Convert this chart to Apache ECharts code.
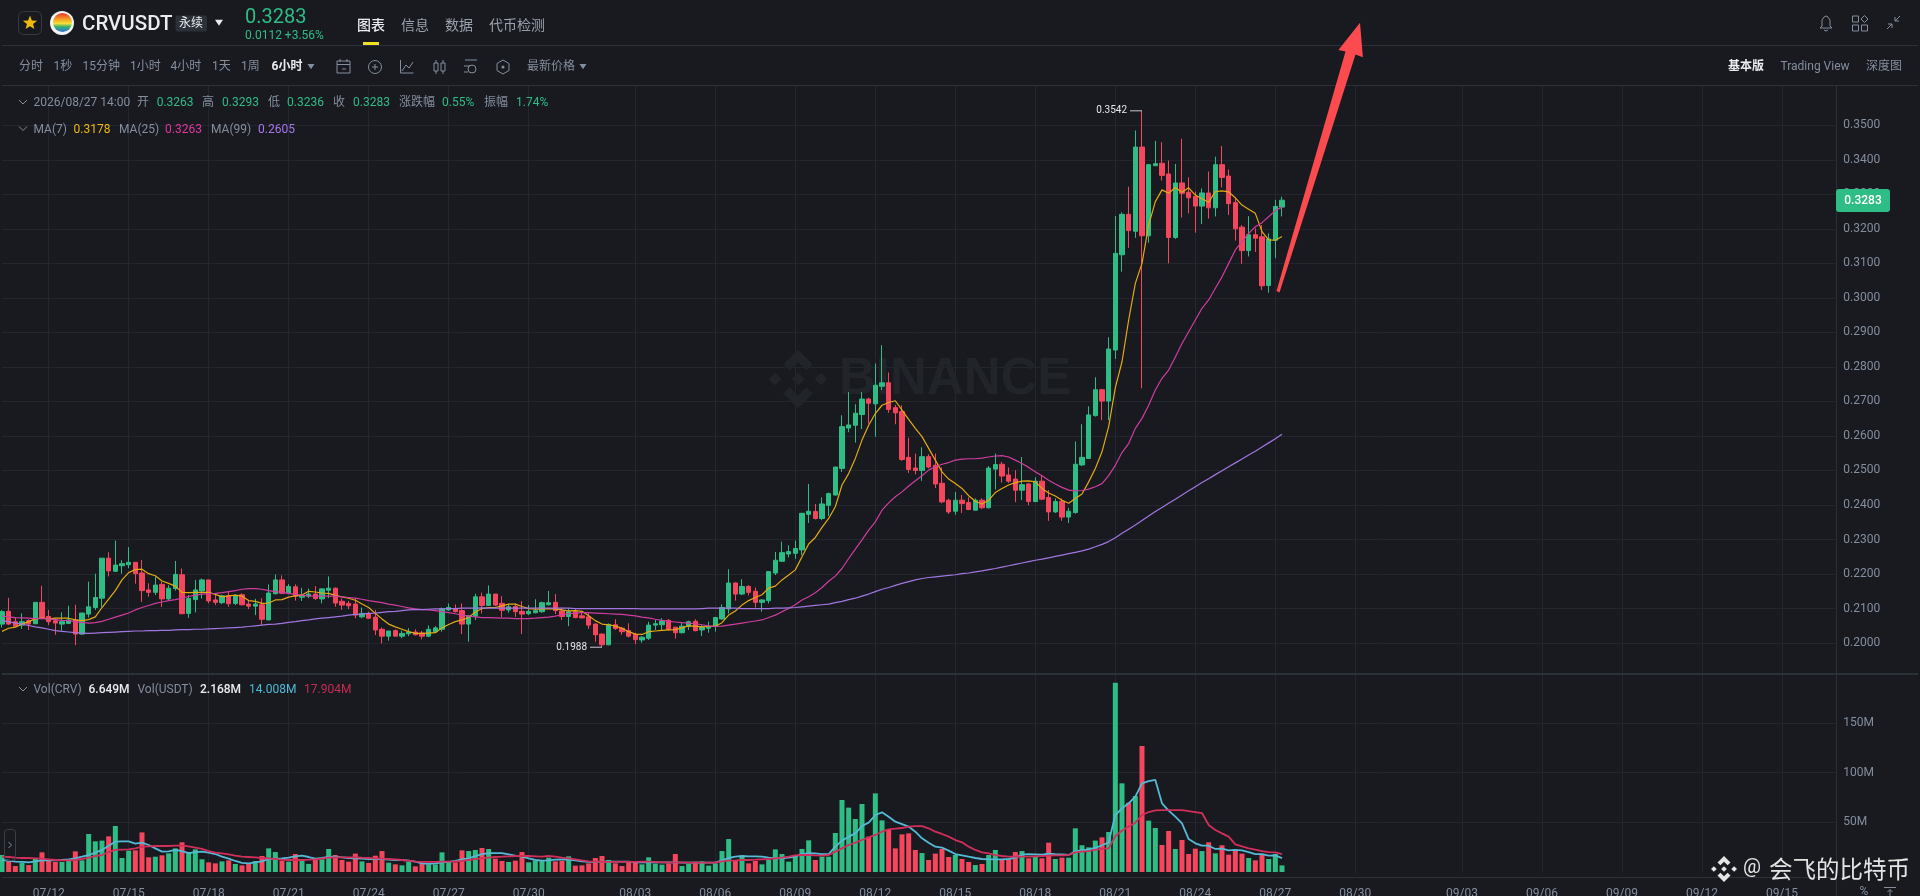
<!DOCTYPE html>
<html><head><meta charset="utf-8"><title>CRVUSDT</title>
<style>html,body{margin:0;padding:0;background:#181A20;overflow:hidden}#c{width:1920px;height:896px}</style>
<script src="https://cdn.jsdelivr.net/npm/echarts@6/dist/echarts.min.js"></script>
</head><body><div id="c"></div><script>
const slotCount = 276;
const tickIndex = [7,19,31,43,55,67,79,95,107,119,131,143,155,167,179,191,203,219,231,243,255,267];
const tickLabels = ['07/12','07/15','07/18','07/21','07/24','07/27','07/30','08/03','08/06','08/09','08/12','08/15','08/18','08/21','08/24','08/27','08/30','09/03','09/06','09/09','09/12','09/15'];
const priceTicks = [0.20,0.21,0.22,0.23,0.24,0.25,0.26,0.27,0.28,0.29,0.30,0.31,0.32,0.33,0.34,0.35];
const volTicks = [50,100,150];
// open, close, low, high
const candles = [
[.2055,.2091,.2045,.2096],[.2092,.2055,.2052,.2131],[.2062,.2049,.2049,.2074],[.2052,.2062,.2041,.2086],[.2065,.2055,.2038,.2069],[.2056,.2118,.2055,.2118],[.2118,.2072,.2069,.2166],[.2077,.2062,.2052,.2096],[.2065,.2058,.2024,.2072],[.2055,.2062,.2036,.2089],
[.2057,.2067,.2055,.2108],[.2067,.2026,.1994,.2111],[.2026,.2087,.2024,.2087],[.2084,.2105,.2074,.2178],[.2103,.2132,.2096,.2201],[.2130,.2246,.2105,.2246],[.2246,.2209,.2193,.2263],[.2208,.2226,.2206,.2297],[.2224,.2230,.2201,.2240],[.2227,.2234,.2217,.2278],
[.2234,.2201,.2172,.2234],[.2203,.2152,.2119,.2241],[.2154,.2147,.2134,.2173],[.2147,.2168,.2139,.2192],[.2170,.2128,.2105,.2178],[.2128,.2159,.2125,.2168],[.2158,.2199,.2152,.2238],[.2198,.2085,.2084,.2216],[.2086,.2129,.2073,.2139],[.2126,.2154,.2089,.2183],
[.2151,.2183,.2129,.2187],[.2183,.2122,.2115,.2183],[.2125,.2118,.2110,.2139],[.2117,.2137,.2113,.2140],[.2137,.2114,.2105,.2151],[.2115,.2137,.2110,.2141],[.2140,.2111,.2109,.2144],[.2113,.2107,.2098,.2125],[.2107,.2113,.2081,.2128],[.2111,.2069,.2052,.2130],
[.2067,.2145,.2067,.2170],[.2143,.2183,.2141,.2199],[.2183,.2144,.2142,.2196],[.2145,.2164,.2141,.2171],[.2163,.2136,.2123,.2170],[.2133,.2136,.2122,.2160],[.2136,.2142,.2130,.2158],[.2142,.2129,.2125,.2165],[.2128,.2157,.2115,.2159],[.2153,.2159,.2130,.2193],
[.2159,.2116,.2105,.2161],[.2121,.2110,.2096,.2129],[.2115,.2108,.2098,.2122],[.2113,.2081,.2072,.2129],[.2076,.2086,.2072,.2103],[.2086,.2072,.2070,.2091],[.2075,.2038,.2023,.2096],[.2040,.2020,.1999,.2045],[.2020,.2035,.2007,.2035],[.2036,.2020,.2020,.2040],
[.2020,.2028,.2014,.2036],[.2027,.2032,.2020,.2043],[.2032,.2024,.2022,.2040],[.2029,.2020,.2011,.2035],[.2020,.2040,.2017,.2051],[.2033,.2044,.2030,.2049],[.2040,.2099,.2033,.2103],[.2096,.2103,.2094,.2115],[.2100,.2091,.2089,.2112],[.2094,.2055,.2026,.2115],
[.2055,.2079,.2004,.2081],[.2078,.2134,.2067,.2143],[.2134,.2109,.2086,.2146],[.2109,.2142,.2107,.2167],[.2142,.2110,.2107,.2142],[.2115,.2095,.2074,.2136],[.2096,.2105,.2088,.2113],[.2106,.2091,.2076,.2115],[.2092,.2084,.2026,.2121],[.2085,.2092,.2081,.2110],
[.2088,.2094,.2086,.2127],[.2091,.2117,.2088,.2120],[.2111,.2117,.2109,.2151],[.2118,.2094,.2084,.2142],[.2093,.2077,.2067,.2103],[.2077,.2091,.2049,.2101],[.2091,.2074,.2072,.2098],[.2079,.2073,.2072,.2091],[.2076,.2052,.2041,.2088],[.2055,.2024,.2004,.2057],
[.2026,.1995,.1988,.2028],[.1995,.2054,.1994,.2057],[.2053,.2042,.2038,.2069],[.2043,.2033,.2024,.2047],[.2036,.2020,.2016,.2057],[.2025,.2010,.1997,.2030],[.2009,.2017,.2001,.2020],[.2014,.2052,.2009,.2062],[.2052,.2056,.2038,.2067],[.2053,.2064,.2036,.2072],
[.2066,.2039,.2036,.2069],[.2046,.2030,.2013,.2047],[.2030,.2049,.2028,.2059],[.2049,.2062,.2038,.2065],[.2063,.2036,.2034,.2069],[.2038,.2047,.2020,.2052],[.2043,.2049,.2030,.2062],[.2049,.2074,.2033,.2076],[.2070,.2103,.2067,.2112],[.2099,.2174,.2086,.2214],
[.2174,.2142,.2123,.2176],[.2142,.2164,.2139,.2185],[.2164,.2147,.2138,.2168],[.2150,.2118,.2103,.2161],[.2118,.2125,.2091,.2127],[.2123,.2207,.2115,.2207],[.2203,.2240,.2197,.2264],[.2237,.2262,.2236,.2294],[.2258,.2265,.2248,.2283],[.2260,.2274,.2244,.2297],
[.2270,.2376,.2255,.2376],[.2373,.2382,.2348,.2461],[.2381,.2361,.2358,.2403],[.2361,.2403,.2356,.2422],[.2399,.2433,.2368,.2436],[.2429,.2510,.2427,.2510],[.2506,.2627,.2496,.2660],[.2623,.2632,.2611,.2727],[.2631,.2666,.2581,.2692],[.2662,.2707,.2620,.2727],
[.2707,.2695,.2636,.2711],[.2693,.2747,.2598,.2810],[.2744,.2754,.2733,.2863],[.2754,.2677,.2667,.2784],[.2682,.2667,.2634,.2690],[.2671,.2532,.2528,.2689],[.2538,.2503,.2493,.2595],[.2507,.2500,.2489,.2549],[.2500,.2540,.2470,.2567],[.2540,.2510,.2506,.2547],
[.2515,.2461,.2449,.2549],[.2463,.2409,.2405,.2509],[.2414,.2380,.2374,.2418],[.2382,.2414,.2372,.2438],[.2414,.2404,.2377,.2429],[.2407,.2387,.2385,.2422],[.2385,.2414,.2385,.2419],[.2414,.2392,.2388,.2419],[.2392,.2507,.2390,.2513],[.2504,.2517,.2445,.2549],
[.2518,.2484,.2465,.2525],[.2487,.2469,.2464,.2509],[.2475,.2443,.2408,.2501],[.2443,.2459,.2414,.2539],[.2461,.2410,.2399,.2464],[.2410,.2469,.2408,.2480],[.2469,.2417,.2414,.2487],[.2422,.2380,.2354,.2443],[.2380,.2410,.2377,.2419],[.2411,.2365,.2354,.2419],
[.2365,.2382,.2348,.2392],[.2378,.2518,.2375,.2584],[.2516,.2538,.2513,.2634],[.2535,.2661,.2533,.2686],[.2659,.2734,.2656,.2770],[.2734,.2701,.2646,.2737],[.2701,.2852,.2646,.2886],[.2849,.3129,.2823,.3237],[.3125,.3242,.3076,.3248],[.3242,.3195,.3145,.3322],
[.3193,.3437,.3174,.3485],[.3437,.3180,.2738,.3542],[.3180,.3386,.3160,.3388],[.3383,.3389,.3383,.3455],[.3390,.3355,.3340,.3451],[.3359,.3175,.3100,.3398],[.3175,.3333,.3171,.3388],[.3333,.3303,.3233,.3461],[.3306,.3290,.3245,.3349],[.3294,.3266,.3189,.3308],
[.3266,.3304,.3214,.3317],[.3304,.3261,.3230,.3366],[.3261,.3386,.3236,.3409],[.3386,.3349,.3320,.3440],[.3353,.3273,.3240,.3372],[.3276,.3200,.3166,.3291],[.3205,.3137,.3099,.3211],[.3137,.3183,.3120,.3237],[.3183,.3173,.3133,.3201],[.3177,.3035,.3023,.3211],
[.3036,.3171,.3015,.3187],[.3167,.3265,.3115,.3284],[.3263,.3283,.3236,.3293]
];
const ma7 = [
.2034,.2043,.2046,.2055,.2062,.2070,.2072,.2070,.2072,.2072,
.2072,.2067,.2065,.2068,.2076,.2103,.2127,.2152,.2183,.2204,
.2213,.2214,.2201,.2195,.2180,.2173,.2165,.2147,.2146,.2147,
.2147,.2147,.2141,.2134,.2137,.2139,.2136,.2123,.2121,.2115,
.2116,.2125,.2126,.2133,.2137,.2139,.2150,.2148,.2145,.2144,
.2138,.2134,.2130,.2124,.2113,.2103,.2086,.2070,.2055,.2047,
.2040,.2033,.2028,.2028,.2029,.2030,.2044,.2054,.2062,.2067,
.2074,.2090,.2100,.2103,.2103,.2108,.2113,.2113,.2106,.2100,
.2098,.2099,.2099,.2099,.2096,.2093,.2094,.2092,.2079,.2065,
.2055,.2053,.2049,.2043,.2033,.2026,.2025,.2033,.2035,.2037,
.2038,.2039,.2044,.2050,.2049,.2047,.2048,.2049,.2059,.2081,
.2093,.2110,.2123,.2132,.2140,.2159,.2165,.2183,.2197,.2212,
.2250,.2287,.2306,.2335,.2361,.2395,.2458,.2491,.2535,.2588,
.2631,.2665,.2689,.2697,.2702,.2675,.2648,.2622,.2598,.2564,
.2530,.2496,.2475,.2462,.2448,.2427,.2411,.2403,.2414,.2436,
.2448,.2458,.2465,.2469,.2470,.2467,.2448,.2435,.2426,.2414,
.2405,.2419,.2432,.2467,.2506,.2554,.2627,.2740,.2815,.2936,
.3042,.3100,.3211,.3279,.3313,.3303,.3320,.3306,.3319,.3298,
.3287,.3277,.3308,.3310,.3307,.3290,.3269,.3257,.3245,.3192,
.3168,.3167,.3178];
const ma25 = [
.2078,.2076,.2074,.2073,.2072,.2071,.2071,.2070,.2068,.2066,
.2065,.2062,.2060,.2058,.2059,.2063,.2069,.2075,.2081,.2087,
.2096,.2103,.2109,.2115,.2119,.2123,.2126,.2130,.2135,.2139,
.2142,.2143,.2144,.2146,.2149,.2152,.2156,.2158,.2158,.2156,
.2152,.2149,.2147,.2144,.2141,.2139,.2137,.2136,.2136,.2136,
.2136,.2134,.2132,.2130,.2127,.2123,.2120,.2117,.2113,.2110,
.2106,.2102,.2099,.2097,.2096,.2094,.2091,.2088,.2085,.2081,
.2078,.2076,.2074,.2074,.2073,.2072,.2072,.2071,.2071,.2071,
.2072,.2074,.2075,.2078,.2082,.2085,.2087,.2088,.2088,.2087,
.2086,.2085,.2084,.2083,.2081,.2079,.2075,.2073,.2069,.2066,
.2063,.2061,.2059,.2058,.2056,.2053,.2050,.2048,.2049,.2052,
.2055,.2058,.2061,.2064,.2067,.2074,.2081,.2091,.2100,.2111,
.2125,.2134,.2146,.2161,.2179,.2194,.2216,.2245,.2272,.2299,
.2327,.2351,.2385,.2406,.2424,.2438,.2455,.2470,.2485,.2501,
.2511,.2518,.2523,.2530,.2533,.2534,.2534,.2536,.2539,.2542,
.2543,.2539,.2530,.2520,.2509,.2496,.2485,.2472,.2461,.2451,
.2443,.2441,.2442,.2446,.2453,.2462,.2485,.2515,.2552,.2578,
.2622,.2651,.2689,.2733,.2767,.2791,.2829,.2868,.2902,.2936,
.2970,.2994,.3028,.3061,.3100,.3139,.3163,.3187,.3206,.3218,
.3235,.3253,.3263];
const ma99 = [
.2065,.2062,.2058,.2055,.2051,.2047,.2044,.2040,.2036,.2034,
.2032,.2030,.2029,.2028,.2029,.2030,.2031,.2032,.2033,.2034,
.2035,.2035,.2036,.2036,.2037,.2037,.2038,.2039,.2039,.2040,
.2040,.2041,.2042,.2043,.2044,.2045,.2046,.2048,.2050,.2052,
.2054,.2055,.2057,.2060,.2062,.2065,.2067,.2070,.2072,.2074,
.2076,.2078,.2081,.2083,.2084,.2086,.2087,.2089,.2091,.2092,
.2094,.2096,.2097,.2097,.2098,.2099,.2099,.2100,.2100,.2101,
.2101,.2101,.2102,.2101,.2101,.2101,.2101,.2101,.2101,.2101,
.2101,.2101,.2101,.2101,.2101,.2101,.2100,.2100,.2100,.2100,
.2100,.2100,.2100,.2100,.2100,.2100,.2099,.2099,.2099,.2099,
.2099,.2099,.2099,.2099,.2099,.2100,.2101,.2101,.2101,.2101,
.2101,.2100,.2100,.2100,.2100,.2100,.2101,.2101,.2102,.2103,
.2105,.2107,.2109,.2111,.2113,.2117,.2121,.2126,.2130,.2136,
.2142,.2149,.2156,.2161,.2167,.2173,.2178,.2183,.2187,.2190,
.2192,.2194,.2196,.2198,.2201,.2203,.2206,.2209,.2213,.2216,
.2220,.2224,.2228,.2232,.2236,.2240,.2243,.2247,.2251,.2255,
.2259,.2263,.2267,.2272,.2279,.2286,.2294,.2305,.2318,.2330,
.2342,.2355,.2368,.2381,.2393,.2405,.2417,.2429,.2441,.2453,
.2465,.2476,.2488,.2499,.2511,.2522,.2533,.2545,.2556,.2568,
.2580,.2592,.2605];
const volume = [
17.1,11.1,6.0,9.1,7.0,13.8,19.8,11.4,10.1,10.1,
11.1,20.8,11.7,38.3,30.9,31.6,35.9,46.3,14.1,21.5,
21.8,39.9,14.8,15.4,16.8,18.8,23.8,29.9,20.1,22.8,
12.8,9.7,8.7,10.7,11.7,8.1,6.7,8.1,11.1,16.1,
23.8,20.1,11.4,10.4,18.1,11.7,8.1,13.1,12.8,23.2,
17.1,12.1,10.4,18.5,10.7,9.1,16.4,21.1,9.4,7.7,
6.7,10.1,5.7,9.4,7.7,7.7,19.8,10.1,9.7,21.8,
21.1,22.2,24.2,23.2,13.4,11.1,10.1,11.4,20.1,9.7,
11.7,11.7,14.4,10.7,11.1,15.8,6.4,6.7,8.7,14.1,
16.1,12.1,8.7,6.0,10.1,10.4,7.7,14.8,8.4,7.4,
8.7,18.1,6.0,8.4,10.4,10.7,6.4,8.7,21.1,33.2,
12.1,16.1,8.7,11.1,7.7,12.1,22.8,18.1,10.4,16.4,
23.2,31.9,12.1,15.4,15.4,39.3,72.5,64.8,53.4,68.5,
35.6,79.2,52.0,43.0,23.8,37.9,38.9,22.2,19.1,12.1,
18.5,23.2,15.1,17.1,13.1,10.1,7.0,8.1,17.1,22.2,
12.8,12.8,20.1,21.1,13.8,15.1,13.8,29.5,13.1,14.4,
14.4,44.0,26.9,24.8,31.6,34.9,40.3,190.7,89.3,69.8,
76.5,126.9,51.7,44.3,27.2,41.3,23.2,32.2,18.1,23.5,
21.1,29.9,18.8,26.9,17.5,21.5,18.5,14.1,11.7,17.8,
13.1,18.1,6.649];
const volMa7 = [
12.1,11.4,10.4,10.1,9.7,10.7,11.7,12.1,11.7,12.1,
12.8,13.8,15.4,17.1,19.5,22.2,26.5,30.5,30.9,30.9,
28.5,29.5,27.2,23.8,20.5,20.8,22.2,21.1,19.1,20.1,
20.5,19.5,18.1,15.4,13.4,11.1,9.1,8.7,9.7,10.7,
13.1,13.4,13.8,14.4,15.8,16.4,15.1,13.4,14.1,15.1,
15.4,14.8,14.1,13.8,13.4,13.1,13.1,13.1,12.4,12.1,
12.1,11.4,10.4,8.7,8.1,8.7,9.7,10.1,11.1,12.8,
13.8,16.1,18.1,19.1,19.1,19.1,17.8,16.4,15.4,13.8,
12.1,11.4,11.7,12.4,12.8,12.4,11.7,10.7,10.1,10.1,
10.4,10.4,10.4,10.4,10.4,9.7,9.7,9.7,9.7,9.7,
9.7,9.7,9.4,9.4,9.4,9.4,9.4,9.4,11.7,14.1,
15.4,16.1,15.8,15.8,15.4,14.4,13.8,13.8,14.4,15.4,
18.1,19.1,18.8,18.1,18.1,25.5,31.6,35.6,38.9,46.3,
49.7,57.4,60.1,55.7,50.7,48.3,45.7,40.6,33.9,29.5,
25.5,24.5,21.5,18.1,16.8,15.4,14.1,13.1,12.8,12.8,
12.8,13.1,14.4,17.5,18.1,17.8,17.5,18.5,18.1,17.8,
17.1,20.8,21.8,22.8,24.2,26.9,29.9,57.4,64.1,69.2,
75.9,89.3,91.6,92.7,69.2,61.8,55.7,49.0,33.2,28.9,
26.5,26.5,23.2,23.5,21.8,22.2,21.8,20.1,18.1,18.1,
16.4,16.8,14.008];
const volMa25 = [
15.4,15.1,14.4,14.1,14.1,13.8,13.4,12.8,12.1,11.7,
11.7,12.1,13.1,14.4,16.1,17.1,20.1,22.2,22.5,22.8,
23.8,25.5,25.8,26.2,26.2,26.2,26.5,26.5,25.8,24.5,
23.2,21.1,19.5,18.8,17.8,16.4,15.4,15.1,14.8,14.1,
13.8,13.1,12.4,12.1,12.1,12.1,12.4,12.8,13.4,14.4,
14.8,14.8,14.8,14.8,14.4,14.1,13.8,13.4,13.1,12.8,
12.1,11.4,10.4,10.1,10.1,10.1,10.4,10.4,10.7,11.1,
12.1,13.1,13.8,14.4,15.1,15.4,15.8,16.1,16.1,16.1,
15.8,15.4,16.1,15.4,14.4,13.8,12.8,11.7,10.7,10.4,
10.1,10.1,10.1,10.1,10.1,10.1,10.4,10.4,10.1,9.7,
9.7,9.7,9.7,9.4,9.4,9.4,9.4,9.4,10.7,11.4,
11.7,12.1,12.1,12.4,12.8,13.1,13.8,14.4,15.4,16.8,
17.1,17.1,16.8,16.4,17.1,20.5,23.8,27.2,29.5,32.2,
34.9,37.3,40.6,43.0,43.6,44.3,45.7,46.3,46.3,44.0,
40.6,38.3,35.6,32.2,29.9,25.5,22.2,19.8,18.8,17.1,
16.1,15.4,15.4,15.4,15.4,15.8,16.1,16.4,16.8,16.8,
17.1,19.8,20.5,21.1,22.2,23.5,23.8,36.3,41.6,45.7,
49.7,57.4,60.4,62.1,62.4,62.4,62.4,62.4,61.4,60.4,
59.4,47.3,42.3,38.9,35.6,27.9,25.8,23.8,22.5,21.1,
20.1,19.8,17.904];

const GREEN='#2EBD85', RED='#F6465D', GRAY='#848E9C', BG='#181A20', LINE='#2B3139', GRID='#23262E', TXT='#EAECEF';
const FONT='Roboto, "Noto Sans CJK SC", sans-serif';
const chart = echarts.init(document.getElementById('c'), null, {renderer:'canvas', width:1920, height:896});
const categories = Array.from({length:slotCount},(_,i)=>String(i));
const labelOf = new Map(tickIndex.map((t,k)=>[String(t),tickLabels[k]]));
const isTick = i => tickIndex.includes(i);

// --- chrome helpers ---
const Z=20;
const T=(x,y,s,o={})=>({type:'text',silent:true,z:o.z||Z,style:{x,y,text:s,fill:o.c||GRAY,fontSize:o.s||12,fontWeight:o.w||'normal',fontFamily:o.f||FONT,align:o.a||'left',verticalAlign:'middle',opacity:o.o==null?1:o.o}});
const R=(x,y,w,h,fill,o={})=>({type:'rect',silent:true,z:o.z||Z,shape:{x,y,width:w,height:h,r:o.r||0},style:{fill,stroke:o.st||null,lineWidth:o.lw||1}});
const P=(pts,stroke,o={})=>({type:'polyline',silent:true,z:o.z||Z,shape:{points:pts},style:{stroke,fill:null,lineWidth:o.lw||1}});
const G=(pts,fill,o={})=>({type:'polygon',silent:true,z:o.z||Z,shape:{points:pts},style:{fill,opacity:o.o==null?1:o.o}});
const C=(x,y,r,fill,o={})=>({type:'circle',silent:true,z:o.z||Z,shape:{cx:x,cy:y,r},style:{fill:fill,stroke:o.st||null,lineWidth:o.lw||1}});
const chev=(x,y)=>P([[x-4,y-2.5],[x,y+1.5],[x+4,y-2.5]],GRAY);
const tri=(x,y,w,c)=>G([[x-w/2,y-w*0.35],[x+w/2,y-w*0.35],[x,y+w*0.4]],c);
function binanceLogo(cx,cy,r,fill,z){
  const d=(a,b,s)=>G([[cx+a*r,cy+(b-s)*r],[cx+(a+s)*r,cy+b*r],[cx+a*r,cy+(b+s)*r],[cx+(a-s)*r,cy+b*r]],fill,{z});
  const top=[[0,-1],[.5,-.5],[.28,-.28],[0,-.56],[-.28,-.28],[-.5,-.5]];
  return [d(0,0,.22),d(.78,0,.22),d(-.78,0,.22),
    G(top.map(p=>[cx+p[0]*r,cy+p[1]*r]),fill,{z}),
    G(top.map(p=>[cx+p[0]*r,cy-p[1]*r]),fill,{z})];
}
const star=[];for(let k=0;k<10;k++){const a=-Math.PI/2+k*Math.PI/5,rr=k%2?3.2:7.5;star.push([30+rr*Math.cos(a),23+rr*Math.sin(a)]);}
const crvFill=new echarts.graphic.LinearGradient(0,0,0,1,[{offset:0,color:'#E5352B'},{offset:.35,color:'#F5A623'},{offset:.55,color:'#F7E03C'},{offset:.72,color:'#38B36B'},{offset:1,color:'#2B6FE0'}]);

const chrome=[
  ...binanceLogo(798,379,29.5,'#212429',1),
  T(839,380,'BINANCE',{s:51,w:'bold',c:'#212429',z:1,f:'"Liberation Sans", sans-serif'}),

  R(2,45,1916,1,LINE),R(2,85,1916,1,LINE),R(2,673,1916,2,LINE),R(2,877,1834,1,LINE),R(1836,85,1,811,LINE),

  // title bar
  R(18.5,11.5,23,23,'transparent',{st:'#343A44',r:5}),G(star,'#F0B90B'),
  C(62,23,12,'#F3F3F3'),C(62.5,22.5,9.5,crvFill),
  T(82,25,'CRVUSDT',{s:20.5,c:TXT,w:500}),
  R(175.5,15.5,31.5,16,'#2B3139',{r:2}),T(191,24,'永续',{a:'center',c:TXT}),
  tri(219,22.5,8,TXT),
  T(245,18,'0.3283',{s:20,c:GREEN}),T(245,36,'0.0112 +3.56%',{c:GREEN}),
  T(357,26,'图表',{s:14,c:TXT,w:500}),T(401,26,'信息',{s:14,c:'#9BA1AB'}),T(445,26,'数据',{s:14,c:'#9BA1AB'}),T(489,26,'代币检测',{s:14,c:'#9BA1AB'}),
  R(363,42,16,3,'#F0E223'),
  // top right icons
  P([[1820,28],[1822,26],[1822,20],[1824,17],[1826,16],[1828,17],[1830,20],[1830,26],[1832,28],[1820,28]],GRAY),P([[1824,30],[1826,31],[1828,30]],GRAY),
  R(1852.5,16,6,6,'transparent',{st:GRAY}),R(1852.5,25,6,6,'transparent',{st:GRAY}),R(1861.5,25,6,6,'transparent',{st:GRAY}),P([[1864.5,15.5],[1868,19],[1864.5,22.5],[1861,19],[1864.5,15.5]],GRAY),
  P([[1887,29],[1892,24]],GRAY),P([[1892,28],[1892,24],[1888,24]],GRAY),P([[1895,21],[1900,16]],GRAY),P([[1895,17],[1895,21],[1899,21]],GRAY),

  // toolbar
  T(19,67,'分时'),T(53.5,67,'1秒'),T(82.5,67,'15分钟'),T(130,67,'1小时'),T(170.5,67,'4小时'),T(212,67,'1天'),T(241,67,'1周'),
  T(271.5,67,'6小时',{c:TXT,w:'bold'}),tri(311,66.5,7,GRAY),
  R(337,61,13,12,'transparent',{st:GRAY}),P([[337,64.5],[350,64.5]],GRAY),P([[346,69],[342,69]],GRAY),P([[340,59],[340,62]],GRAY),P([[347,59],[347,62]],GRAY),
  C(375,67,6.5,'transparent',{st:GRAY}),P([[372,67],[378,67]],GRAY),P([[375,64],[375,70]],GRAY),
  P([[400.5,60],[400.5,73],[413.5,73]],GRAY),P([[402,71],[406,65],[409,68],[413,62]],GRAY),
  R(434,63,4,8,'transparent',{st:GRAY}),R(441,63,4,8,'transparent',{st:GRAY}),P([[436,60],[436,63]],GRAY),P([[436,71],[436,74]],GRAY),P([[443,60],[443,63]],GRAY),P([[443,71],[443,74]],GRAY),
  P([[465,60],[477,60]],GRAY),P([[464,66],[470,66]],GRAY),P([[464,72],[468,72]],GRAY),C(472,69,4,'transparent',{st:GRAY}),
  P([[503,60],[509,63.5],[509,70.5],[503,74],[497,70.5],[497,63.5],[503,60]],GRAY),C(503,67,1.5,GRAY),
  T(527,67,'最新价格'),tri(583,66.5,7,GRAY),
  T(1728,67,'基本版',{c:TXT,w:'bold'}),T(1780.5,67,'Trading View'),T(1866,67,'深度图'),

  // legend rows
  chev(23,102.5),T(33.5,103,'2026/08/27 14:00'),
  T(137,103,'开'),T(156.7,103,'0.3263',{c:GREEN}),T(202,103,'高'),T(222,103,'0.3293',{c:GREEN}),T(268,103,'低'),T(287,103,'0.3236',{c:GREEN}),
  T(333,103,'收'),T(353,103,'0.3283',{c:GREEN}),T(399,103,'涨跌幅'),T(442,103,'0.55%',{c:GREEN}),T(484,103,'振幅'),T(516,103,'1.74%',{c:GREEN}),
  chev(23,129),T(33.5,129.5,'MA(7)'),T(73.5,129.5,'0.3178',{c:'#F0B90B'}),T(119,129.5,'MA(25)'),T(165,129.5,'0.3263',{c:'#E0379D'}),T(211,129.5,'MA(99)'),T(258,129.5,'0.2605',{c:'#A876EC'}),
  chev(23,689.5),T(33.5,690,'Vol(CRV)'),T(88.5,690,'6.649M',{c:TXT,w:500}),T(137.5,690,'Vol(USDT)'),T(200,690,'2.168M',{c:TXT,w:500}),T(249,690,'14.008M',{c:'#4FBAD6'}),T(304,690,'17.904M',{c:'#C72C55'}),

  // last price tag
  R(1836,189,54,23,GREEN,{r:3}),T(1863,200.5,'0.3283',{a:'center',c:'#FFFFFF',w:500}),
  // left drawer handle
  R(4.5,829.5,11,31,'transparent',{st:'#3A3F49',r:3}),P([[8.5,842],[11.5,845],[8.5,848]],GRAY),
  // arrow annotation
  G([[1360,22.7],[1362.9,57.3],[1355.5,54.5],[1279.5,292.5],[1276.5,291],[1345.5,51.5],[1338.4,50]],'#FB4B4E',{z:30}),
  // footer
  T(1864,892,'%',{a:'center'}),P([[1884,887.5],[1896,887.5]],GRAY),P([[1890,890],[1890,896]],GRAY),P([[1887.5,892],[1890,889.5],[1892.5,892]],GRAY),
  ...binanceLogo(1724,869,13,'#E4E4E4',30),
  T(1743,868,'@',{s:20,c:'#E4E4E4',z:30}),
  T(1769,869,'会飞的比特币',{s:23.5,c:'#E4E4E4',z:30,f:'"Noto Sans CJK SC", sans-serif'})
];

const axisX=(gi,labels)=>({type:'category',gridIndex:gi,data:categories,boundaryGap:false,
  axisLine:{show:false},axisTick:{show:false},
  axisLabel:{show:labels,interval:(i)=>isTick(i),formatter:v=>labelOf.get(v)||'',color:GRAY,fontSize:12,fontFamily:FONT,margin:15,hideOverlap:false},
  splitLine:{show:true,interval:(i)=>isTick(i),lineStyle:{color:GRID,width:1}}});
const maLine=(name,data,color,w,ax)=>({type:'line',name,data,xAxisIndex:ax,yAxisIndex:ax,showSymbol:false,symbol:'none',smooth:false,silent:true,lineStyle:{color,width:w},z:5,animation:false});
const hiLoLabel=(idx,val)=>({coord:[idx,val],symbol:'rect',symbolSize:[12,1],symbolOffset:[-6,0],itemStyle:{color:'#C9CCD1'},
  label:{show:true,position:'left',distance:3,formatter:val.toFixed(4),color:'#E4E6EA',fontSize:10,fontFamily:FONT}});

chart.setOption({
  backgroundColor:BG,animation:false,
  grid:[{left:2,top:85,width:1833.33,height:589,containLabel:false},
        {left:2,top:674,width:1833.33,height:198,containLabel:false},
        {left:2,top:872,width:1833.33,height:5,containLabel:false}],
  xAxis:[axisX(0,false),axisX(1,false),axisX(2,true)],
  yAxis:[
    {type:'value',gridIndex:0,position:'right',min:0.19104,max:0.36168,
      axisLine:{show:false},axisTick:{show:false,customValues:priceTicks},
      axisLabel:{customValues:priceTicks,formatter:v=>v.toFixed(4),color:GRAY,fontSize:12,fontFamily:FONT,margin:8,padding:[2,0,0,0]},
      splitLine:{show:true,lineStyle:{color:GRID,width:1}}},
    {type:'value',gridIndex:1,position:'right',min:0,max:199.4,
      axisLine:{show:false},axisTick:{show:false,customValues:volTicks},
      axisLabel:{customValues:volTicks,formatter:v=>v+'M',color:GRAY,fontSize:12,fontFamily:FONT,margin:8,padding:[2,0,0,0]},
      splitLine:{show:true,lineStyle:{color:GRID,width:1}}},
    {type:'value',gridIndex:2,position:'right',min:0,max:1,show:false}
  ],
  graphic:{elements:chrome},
  series:[
    {type:'candlestick',name:'CRVUSDT',data:candles,xAxisIndex:0,yAxisIndex:0,barWidth:5,clip:false,silent:true,z:3,
      itemStyle:{color:GREEN,color0:RED,borderColor:GREEN,borderColor0:RED,borderWidth:1},
      markPoint:{silent:true,animation:false,data:[hiLoLabel(171,0.3542),hiLoLabel(90,0.1988)]}},
    maLine('MA7',ma7,'#E3AA12',1.2,0),maLine('MA25',ma25,'#CF3D9F',1.2,0),maLine('MA99',ma99,'#A276E0',1.2,0),
    {type:'bar',name:'Vol',xAxisIndex:1,yAxisIndex:1,barWidth:5,clip:false,silent:true,z:3,
      data:volume.map((v,i)=>({value:v,itemStyle:{color:candles[i][1]>=candles[i][0]?GREEN:RED}}))},
    maLine('Vol MA7',volMa7,'#55BAD6',1.8,1),maLine('Vol MA25',volMa25,'#D12F5B',1.8,1)
  ]
});
</script></body></html>
